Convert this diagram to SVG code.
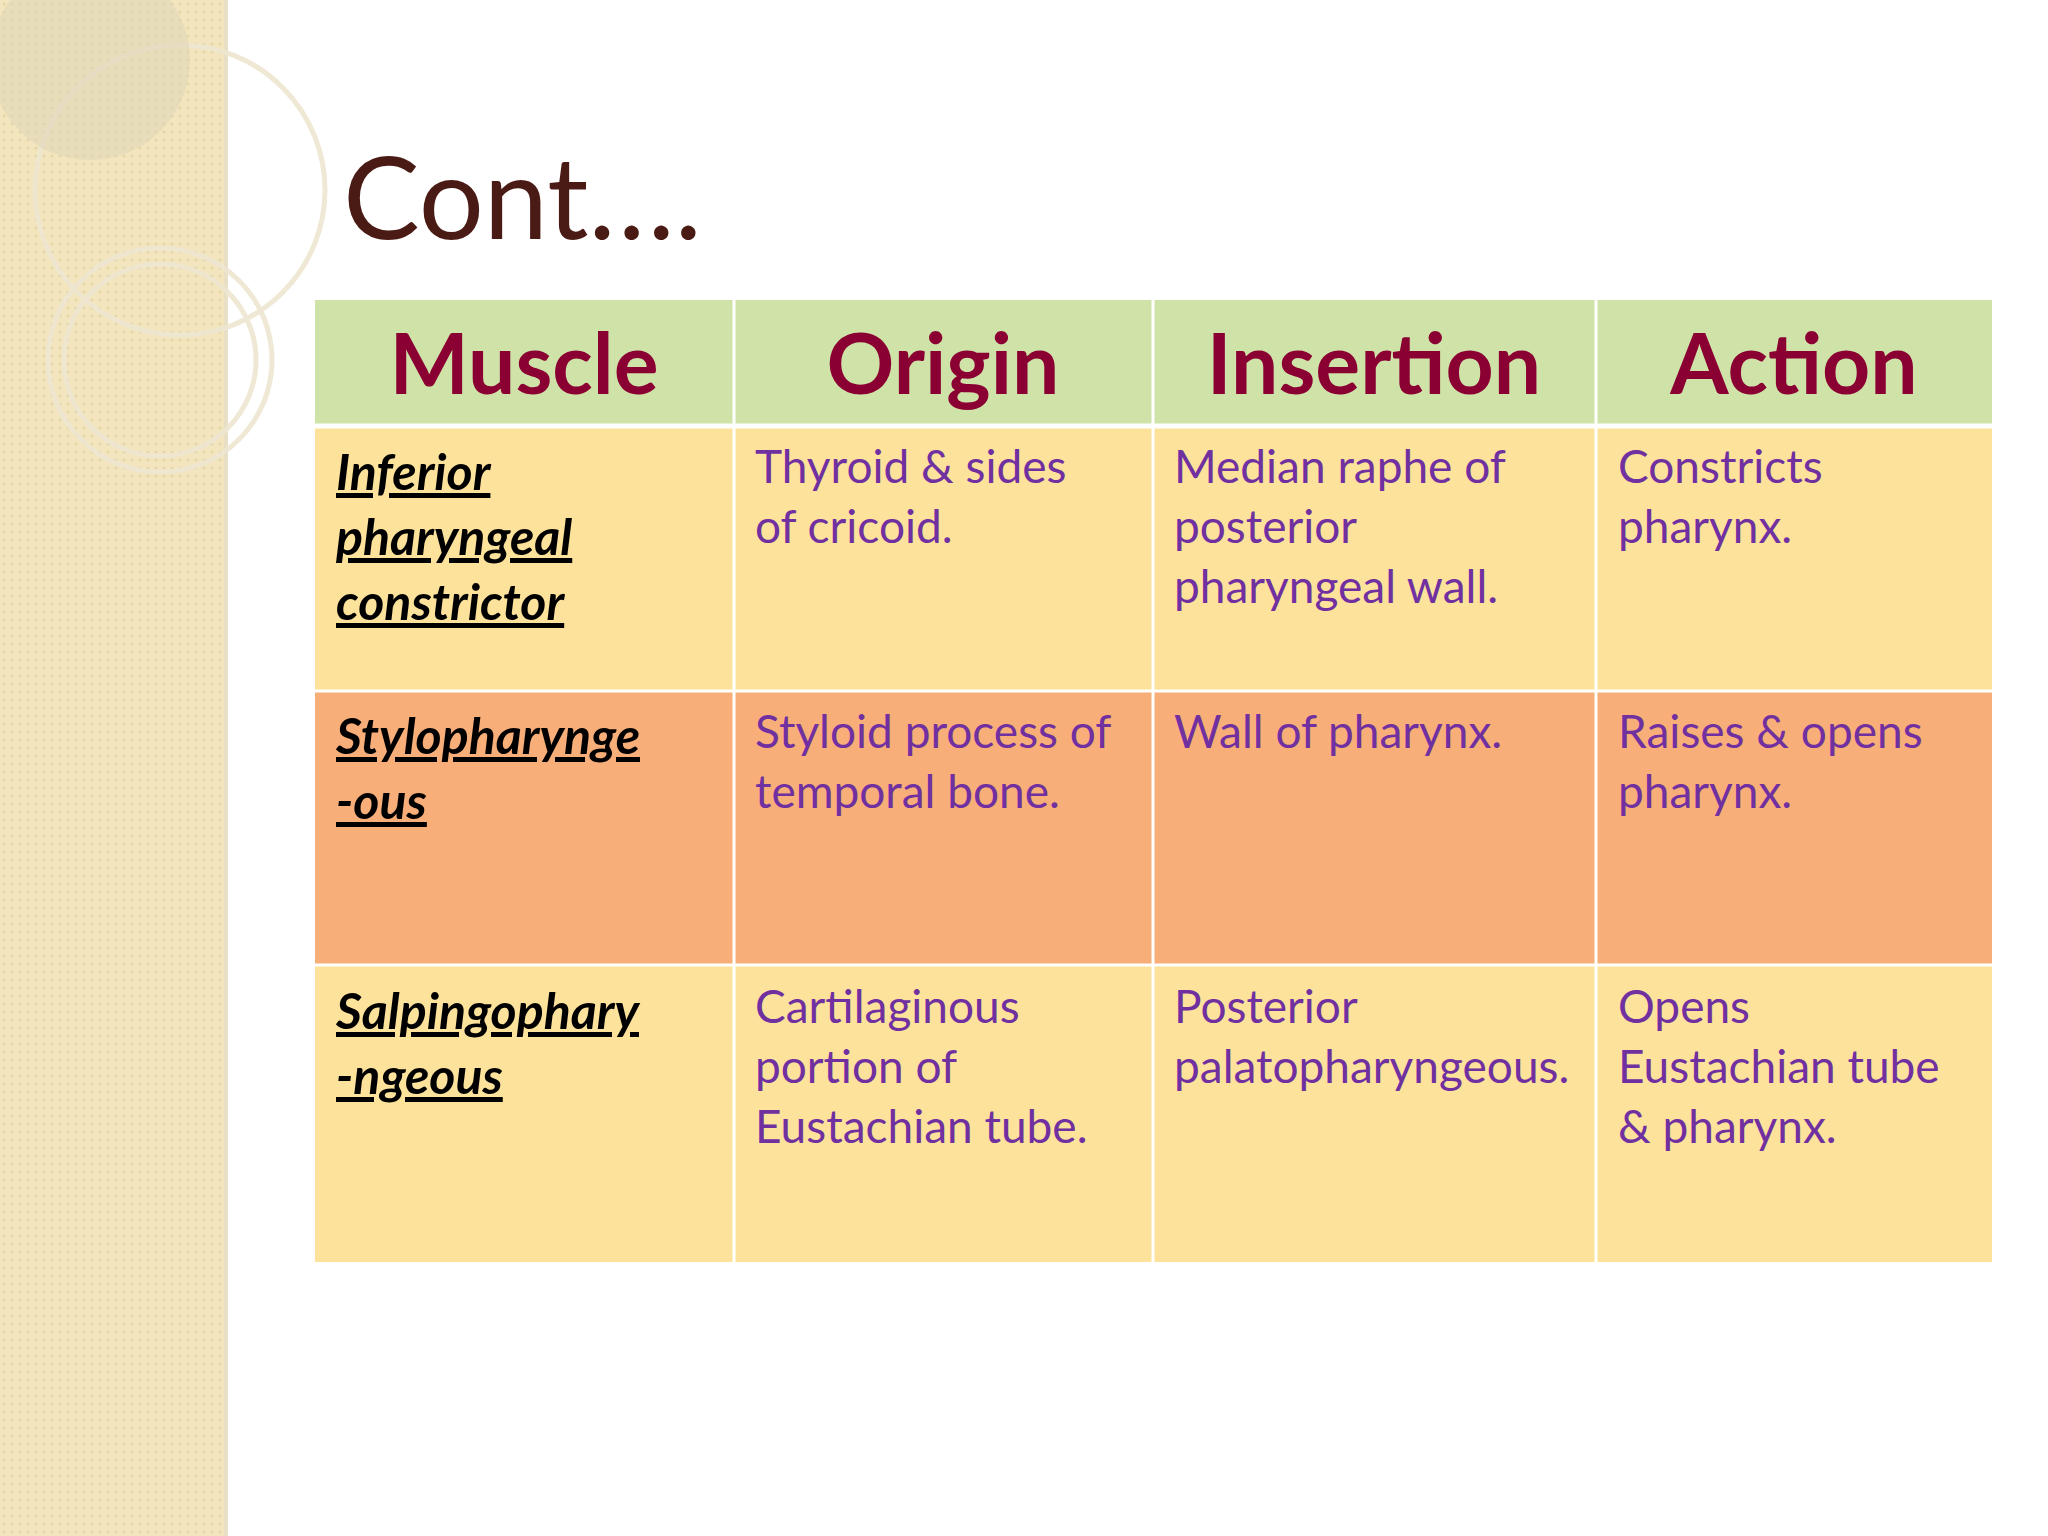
<svg xmlns="http://www.w3.org/2000/svg" width="2048" height="1536" viewBox="0 0 2048 1536">
<defs>
<pattern id="p" width="8" height="8" patternUnits="userSpaceOnUse"><rect width="8" height="8" fill="#f3e6bf"/><circle cx="4" cy="4" r="1.6" fill="#e6d5a6"/></pattern>
</defs>
<style>
.h{font-family:Lato,"Open Sans",sans-serif;font-weight:bold;font-size:84px;fill:#8b0033;text-anchor:middle}
.b{font-family:Lato,"Open Sans",sans-serif;font-size:46px;fill:#7030a0}
.m{font-family:Lato,"Open Sans",sans-serif;font-weight:bold;font-style:italic;font-size:50px;fill:#000;text-decoration:underline}
.g{stroke:#fff;stroke-width:3}
</style>
<rect width="2048" height="1536" fill="#fff"/>
<rect width="226" height="1536" fill="url(#p)"/>
<rect x="224" width="4" height="1536" fill="#e8dfc6"/>
<g fill="none" stroke="#eee6d0" stroke-width="5" opacity="0.9">
<circle cx="180" cy="190" r="145"/>
<circle cx="160" cy="360" r="112"/>
<circle cx="160" cy="360" r="96"/>
</g>
<circle cx="90" cy="60" r="100" fill="#ddd3b8" opacity="0.5"/>
<text x="343" y="239" font-family="Lato,'Open Sans',sans-serif" font-size="115" fill="#4a1a14">Cont….</text>
<g id="table">
<rect x="315" y="300" width="1677" height="126" fill="#cfe3a8"/>
<rect x="315" y="426" width="1677" height="265" fill="#fde29c"/>
<rect x="315" y="691" width="1677" height="274" fill="#f8ae78"/>
<rect x="315" y="965" width="1677" height="297" fill="#fde29c"/>
<g class="g"><line x1="734" y1="300" x2="734" y2="1262"/><line x1="1153" y1="300" x2="1153" y2="1262"/><line x1="1596" y1="300" x2="1596" y2="1262"/>
<line x1="315" y1="426" x2="1992" y2="426" stroke-width="5"/><line x1="315" y1="691" x2="1992" y2="691"/><line x1="315" y1="965" x2="1992" y2="965"/></g>
</g>
<g id="header">
<text class="h" x="524" y="394">Muscle</text><text class="h" x="943" y="394">Origin</text><text class="h" x="1374" y="394">Insertion</text><text class="h" x="1794" y="394">Action</text>
</g>
<g id="row1">
<text class="m" x="336" y="490">Inferior</text><text class="m" x="336" y="555">pharyngeal</text><text class="m" x="336" y="620">constrictor</text>
<text class="b" x="755" y="483">Thyroid &amp; sides</text><text class="b" x="755" y="543">of cricoid.</text>
<text class="b" x="1174" y="483">Median raphe of</text><text class="b" x="1174" y="543">posterior</text><text class="b" x="1174" y="603">pharyngeal wall.</text>
<text class="b" x="1618" y="483">Constricts</text><text class="b" x="1618" y="543">pharynx.</text>
</g>
<g id="row2">
<text class="m" x="336" y="754">Stylopharynge</text><text class="m" x="336" y="819">-ous</text>
<text class="b" x="755" y="748">Styloid process of</text><text class="b" x="755" y="808">temporal bone.</text>
<text class="b" x="1174" y="748">Wall of pharynx.</text>
<text class="b" x="1618" y="748">Raises &amp; opens</text><text class="b" x="1618" y="808">pharynx.</text>
</g>
<g id="row3">
<text class="m" x="336" y="1029">Salpingophary</text><text class="m" x="336" y="1094">-ngeous</text>
<text class="b" x="755" y="1023">Cartilaginous</text><text class="b" x="755" y="1083">portion of</text><text class="b" x="755" y="1143">Eustachian tube.</text>
<text class="b" x="1174" y="1023">Posterior</text><text class="b" x="1174" y="1083">palatopharyngeous.</text>
<text class="b" x="1618" y="1023">Opens</text><text class="b" x="1618" y="1083">Eustachian tube</text><text class="b" x="1618" y="1143">&amp; pharynx.</text>
</g>
</svg>
